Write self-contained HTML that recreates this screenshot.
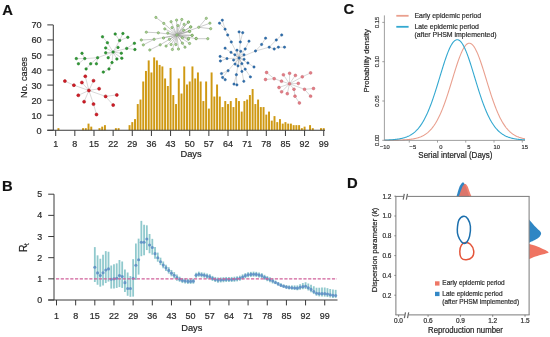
<!DOCTYPE html>
<html><head><meta charset="utf-8"><style>
html,body{margin:0;padding:0;background:#fff;}
svg{display:block;filter:blur(0.3px);}
text{stroke:#2a2a2a;stroke-width:0.2px;}
</style></head><body>
<svg width="550" height="337" viewBox="0 0 550 337">
<rect width="550" height="337" fill="#fff"/>
<g fill="#CF9913"><rect x="57.46" y="128.15" width="1.95" height="2.10"/><rect x="82.08" y="128.15" width="1.95" height="2.10"/><rect x="84.81" y="128.15" width="1.95" height="2.10"/><rect x="87.55" y="123.63" width="1.95" height="6.62"/><rect x="90.28" y="126.64" width="1.95" height="3.61"/><rect x="98.49" y="128.15" width="1.95" height="2.10"/><rect x="101.22" y="126.64" width="1.95" height="3.61"/><rect x="103.96" y="125.14" width="1.95" height="5.11"/><rect x="114.90" y="128.15" width="1.95" height="2.10"/><rect x="117.63" y="128.15" width="1.95" height="2.10"/><rect x="128.57" y="125.14" width="1.95" height="5.11"/><rect x="131.31" y="122.12" width="1.95" height="8.12"/><rect x="134.04" y="119.11" width="1.95" height="11.13"/><rect x="136.78" y="104.06" width="1.95" height="26.18"/><rect x="139.51" y="99.55" width="1.95" height="30.70"/><rect x="142.25" y="81.49" width="1.95" height="48.76"/><rect x="144.98" y="70.96" width="1.95" height="59.29"/><rect x="147.72" y="60.42" width="1.95" height="69.83"/><rect x="150.45" y="72.46" width="1.95" height="57.79"/><rect x="153.19" y="57.41" width="1.95" height="72.84"/><rect x="155.92" y="60.42" width="1.95" height="69.83"/><rect x="158.66" y="64.94" width="1.95" height="65.31"/><rect x="161.39" y="66.44" width="1.95" height="63.81"/><rect x="164.12" y="78.48" width="1.95" height="51.77"/><rect x="166.86" y="86.00" width="1.95" height="44.24"/><rect x="169.59" y="67.94" width="1.95" height="62.30"/><rect x="172.33" y="95.03" width="1.95" height="35.21"/><rect x="175.06" y="104.06" width="1.95" height="26.18"/><rect x="177.80" y="78.48" width="1.95" height="51.77"/><rect x="180.53" y="93.53" width="1.95" height="36.72"/><rect x="183.27" y="66.44" width="1.95" height="63.81"/><rect x="186.01" y="84.50" width="1.95" height="45.75"/><rect x="188.74" y="81.49" width="1.95" height="48.76"/><rect x="191.47" y="66.44" width="1.95" height="63.81"/><rect x="194.21" y="78.48" width="1.95" height="51.77"/><rect x="196.95" y="72.46" width="1.95" height="57.79"/><rect x="199.68" y="81.49" width="1.95" height="48.76"/><rect x="202.41" y="101.06" width="1.95" height="29.20"/><rect x="205.15" y="81.49" width="1.95" height="48.76"/><rect x="207.89" y="108.58" width="1.95" height="21.67"/><rect x="210.62" y="72.46" width="1.95" height="57.79"/><rect x="213.35" y="96.54" width="1.95" height="33.71"/><rect x="216.09" y="84.50" width="1.95" height="45.75"/><rect x="218.83" y="96.54" width="1.95" height="33.71"/><rect x="221.56" y="107.08" width="1.95" height="23.18"/><rect x="224.29" y="101.06" width="1.95" height="29.20"/><rect x="227.03" y="104.06" width="1.95" height="26.18"/><rect x="229.77" y="101.06" width="1.95" height="29.20"/><rect x="232.50" y="107.08" width="1.95" height="23.18"/><rect x="235.23" y="98.05" width="1.95" height="32.20"/><rect x="237.97" y="101.06" width="1.95" height="29.20"/><rect x="240.71" y="111.59" width="1.95" height="18.66"/><rect x="243.44" y="101.06" width="1.95" height="29.20"/><rect x="246.17" y="99.55" width="1.95" height="30.70"/><rect x="248.91" y="95.03" width="1.95" height="35.21"/><rect x="251.65" y="89.02" width="1.95" height="41.23"/><rect x="254.38" y="104.06" width="1.95" height="26.18"/><rect x="257.11" y="99.55" width="1.95" height="30.70"/><rect x="259.85" y="107.08" width="1.95" height="23.18"/><rect x="262.58" y="107.08" width="1.95" height="23.18"/><rect x="265.32" y="114.60" width="1.95" height="15.65"/><rect x="268.05" y="111.59" width="1.95" height="18.66"/><rect x="270.79" y="120.62" width="1.95" height="9.63"/><rect x="273.52" y="116.11" width="1.95" height="14.14"/><rect x="276.26" y="122.12" width="1.95" height="8.12"/><rect x="278.99" y="119.11" width="1.95" height="11.13"/><rect x="281.73" y="123.63" width="1.95" height="6.62"/><rect x="284.46" y="122.12" width="1.95" height="8.12"/><rect x="287.20" y="123.63" width="1.95" height="6.62"/><rect x="289.93" y="123.63" width="1.95" height="6.62"/><rect x="292.67" y="125.14" width="1.95" height="5.11"/><rect x="295.40" y="125.14" width="1.95" height="5.11"/><rect x="298.14" y="125.14" width="1.95" height="5.11"/><rect x="300.87" y="128.15" width="1.95" height="2.10"/><rect x="303.61" y="126.64" width="1.95" height="3.61"/><rect x="309.08" y="125.14" width="1.95" height="5.11"/><rect x="311.81" y="128.15" width="1.95" height="2.10"/><rect x="320.02" y="128.15" width="1.95" height="2.10"/><rect x="322.75" y="128.15" width="1.95" height="2.10"/></g>
<g stroke="#3a3a3a" stroke-width="1" fill="none">
<path d="M53.3 25.0V130.25"/>
<path d="M47.3 130.25H53.3"/>
<path d="M47.3 115.20H53.3"/>
<path d="M47.3 100.15H53.3"/>
<path d="M47.3 85.10H53.3"/>
<path d="M47.3 70.05H53.3"/>
<path d="M47.3 55.00H53.3"/>
<path d="M47.3 39.95H53.3"/>
<path d="M47.3 24.90H53.3"/>
<path d="M47.3 130.25H325"/>
<path d="M55.70 130.25V136"/>
<path d="M74.84 130.25V136"/>
<path d="M93.99 130.25V136"/>
<path d="M113.13 130.25V136"/>
<path d="M132.28 130.25V136"/>
<path d="M151.43 130.25V136"/>
<path d="M170.57 130.25V136"/>
<path d="M189.71 130.25V136"/>
<path d="M208.86 130.25V136"/>
<path d="M228.00 130.25V136"/>
<path d="M247.15 130.25V136"/>
<path d="M266.30 130.25V136"/>
<path d="M285.44 130.25V136"/>
<path d="M304.58 130.25V136"/>
<path d="M323.73 130.25V136"/>
</g>
<g font-family='"Liberation Sans", sans-serif' font-size="9.2" fill="#2a2a2a" text-anchor="end">
<text transform="translate(41.7 133.75) scale(1 1.05)">0</text>
<text transform="translate(41.7 118.70) scale(1 1.05)">10</text>
<text transform="translate(41.7 103.65) scale(1 1.05)">20</text>
<text transform="translate(41.7 88.60) scale(1 1.05)">30</text>
<text transform="translate(41.7 73.55) scale(1 1.05)">40</text>
<text transform="translate(41.7 58.50) scale(1 1.05)">50</text>
<text transform="translate(41.7 43.45) scale(1 1.05)">60</text>
<text transform="translate(41.7 28.40) scale(1 1.05)">70</text>
</g>
<g font-family='"Liberation Sans", sans-serif' font-size="9.0" fill="#2a2a2a" text-anchor="middle">
<text transform="translate(55.70 147.0) scale(1 1.05)">1</text>
<text transform="translate(74.84 147.0) scale(1 1.05)">8</text>
<text transform="translate(93.99 147.0) scale(1 1.05)">15</text>
<text transform="translate(113.13 147.0) scale(1 1.05)">22</text>
<text transform="translate(132.28 147.0) scale(1 1.05)">29</text>
<text transform="translate(151.43 147.0) scale(1 1.05)">36</text>
<text transform="translate(170.57 147.0) scale(1 1.05)">43</text>
<text transform="translate(189.71 147.0) scale(1 1.05)">50</text>
<text transform="translate(208.86 147.0) scale(1 1.05)">57</text>
<text transform="translate(228.00 147.0) scale(1 1.05)">64</text>
<text transform="translate(247.15 147.0) scale(1 1.05)">71</text>
<text transform="translate(266.30 147.0) scale(1 1.05)">78</text>
<text transform="translate(285.44 147.0) scale(1 1.05)">85</text>
<text transform="translate(304.58 147.0) scale(1 1.05)">92</text>
<text transform="translate(323.73 147.0) scale(1 1.05)">99</text>
</g>
<text transform="translate(191 157.0) scale(1 1.06)" font-family='"Liberation Sans", sans-serif' font-size="9.3" fill="#222" text-anchor="middle">Days</text>
<text transform="translate(26.5 77.5) rotate(-90)" font-family='"Liberation Sans", sans-serif' font-size="9.2" fill="#2a2a2a" text-anchor="middle">No. cases</text>
<g stroke="#a8a8a8" stroke-width="0.45" fill="none"><path d="M113.1 52.0L107.4 42.7"/><path d="M107.4 42.7L102.5 36.8"/><path d="M113.1 52.0L119.6 40.5"/><path d="M119.6 40.5L115.2 34.0"/><path d="M119.6 40.5L122.9 33.5"/><path d="M119.6 40.5L127.8 37.3"/><path d="M113.1 52.0L126.7 48.4"/><path d="M126.7 48.4L134.4 43.3"/><path d="M126.7 48.4L134.9 49.5"/><path d="M113.1 52.0L118.0 47.4"/><path d="M113.1 52.0L105.7 47.9"/><path d="M113.1 52.0L105.7 52.8"/><path d="M113.1 52.0L121.3 53.2"/><path d="M113.1 52.0L108.2 57.7"/><path d="M113.1 52.0L116.9 59.0"/><path d="M113.1 52.0L121.8 58.2"/><path d="M113.1 52.0L112.0 62.6"/><path d="M112.0 62.6L109.0 68.9"/><path d="M109.0 68.9L103.3 72.1"/><path d="M113.1 52.0L97.6 57.7"/><path d="M97.6 57.7L90.7 63.8"/><path d="M90.7 63.8L86.1 68.9"/><path d="M97.6 57.7L96.4 63.8"/><path d="M97.6 57.7L84.8 58.6"/><path d="M84.8 58.6L82.0 53.3"/><path d="M84.8 58.6L76.3 58.6"/><path d="M84.8 58.6L78.4 63.8"/></g><g fill="#2f9a35" stroke="#1f7a25" stroke-width="0.55"><circle cx="113.1" cy="52.0" r="1.25"/><circle cx="107.4" cy="42.7" r="1.25"/><circle cx="102.5" cy="36.8" r="1.25"/><circle cx="119.6" cy="40.5" r="1.25"/><circle cx="115.2" cy="34.0" r="1.25"/><circle cx="122.9" cy="33.5" r="1.25"/><circle cx="127.8" cy="37.3" r="1.25"/><circle cx="126.7" cy="48.4" r="1.25"/><circle cx="134.4" cy="43.3" r="1.25"/><circle cx="134.9" cy="49.5" r="1.25"/><circle cx="118.0" cy="47.4" r="1.25"/><circle cx="105.7" cy="47.9" r="1.25"/><circle cx="105.7" cy="52.8" r="1.25"/><circle cx="121.3" cy="53.2" r="1.25"/><circle cx="108.2" cy="57.7" r="1.25"/><circle cx="116.9" cy="59.0" r="1.25"/><circle cx="121.8" cy="58.2" r="1.25"/><circle cx="112.0" cy="62.6" r="1.25"/><circle cx="109.0" cy="68.9" r="1.25"/><circle cx="103.3" cy="72.1" r="1.25"/><circle cx="97.6" cy="57.7" r="1.25"/><circle cx="90.7" cy="63.8" r="1.25"/><circle cx="86.1" cy="68.9" r="1.25"/><circle cx="96.4" cy="63.8" r="1.25"/><circle cx="84.8" cy="58.6" r="1.25"/><circle cx="82.0" cy="53.3" r="1.25"/><circle cx="76.3" cy="58.6" r="1.25"/><circle cx="78.4" cy="63.8" r="1.25"/></g>
<g stroke="#a8a8a8" stroke-width="0.45" fill="none"><path d="M88.9 90.5L85.3 76.3"/><path d="M88.9 90.5L93.5 80.7"/><path d="M88.9 90.5L81.9 82.5"/><path d="M88.9 90.5L73.9 85.2"/><path d="M73.9 85.2L64.9 81.1"/><path d="M88.9 90.5L99.1 88.7"/><path d="M88.9 90.5L78.3 95.3"/><path d="M88.9 90.5L84.1 101.7"/><path d="M88.9 90.5L93.5 104.1"/><path d="M93.5 104.1L96.5 114.5"/><path d="M88.9 90.5L105.6 96.4"/><path d="M105.6 96.4L116.8 94.9"/><path d="M105.6 96.4L113.2 105.1"/></g><g fill="#d01c26" stroke="#a81018" stroke-width="0.55"><circle cx="88.9" cy="90.5" r="1.5"/><circle cx="85.3" cy="76.3" r="1.5"/><circle cx="93.5" cy="80.7" r="1.5"/><circle cx="81.9" cy="82.5" r="1.5"/><circle cx="73.9" cy="85.2" r="1.5"/><circle cx="64.9" cy="81.1" r="1.5"/><circle cx="99.1" cy="88.7" r="1.5"/><circle cx="78.3" cy="95.3" r="1.5"/><circle cx="84.1" cy="101.7" r="1.5"/><circle cx="93.5" cy="104.1" r="1.5"/><circle cx="96.5" cy="114.5" r="1.5"/><circle cx="105.6" cy="96.4" r="1.5"/><circle cx="116.8" cy="94.9" r="1.5"/><circle cx="113.2" cy="105.1" r="1.5"/></g>
<g stroke="#999" stroke-width="0.5" fill="none"><path d="M176.9 35.0L163.8 23.4"/><path d="M176.9 35.0L171.1 21.7"/><path d="M176.9 35.0L176.6 20.1"/><path d="M176.9 35.0L181.8 19.5"/><path d="M176.9 35.0L188.3 22.1"/><path d="M176.9 35.0L172.0 27.6"/><path d="M176.9 35.0L177.9 25.6"/><path d="M176.9 35.0L184.1 24.3"/><path d="M176.9 35.0L190.7 26.9"/><path d="M176.9 35.0L164.8 28.9"/><path d="M176.9 35.0L183.7 30.2"/><path d="M176.9 35.0L189.3 31.2"/><path d="M176.9 35.0L158.3 32.8"/><path d="M176.9 35.0L167.8 33.1"/><path d="M176.9 35.0L192.2 35.4"/><path d="M176.9 35.0L196.1 38.7"/><path d="M176.9 35.0L154.1 39.3"/><path d="M176.9 35.0L163.5 38.0"/><path d="M176.9 35.0L169.4 39.3"/><path d="M176.9 35.0L182.4 37.8"/><path d="M176.9 35.0L188.3 39.3"/><path d="M176.9 35.0L160.2 44.8"/><path d="M176.9 35.0L166.1 46.1"/><path d="M176.9 35.0L171.1 44.6"/><path d="M176.9 35.0L175.9 44.6"/><path d="M176.9 35.0L182.4 43.2"/><path d="M176.9 35.0L189.6 43.5"/><path d="M176.9 35.0L172.4 49.5"/><path d="M176.9 35.0L178.5 49.1"/><path d="M176.9 35.0L185.0 47.2"/><path d="M176.9 35.0L188.6 22.1"/><path d="M176.9 35.0L190.7 27.0"/><path d="M176.9 35.0L189.7 31.5"/><path d="M176.9 35.0L192.1 35.3"/><path d="M176.9 35.0L188.6 38.4"/><path d="M176.9 35.0L198.7 27.3"/><path d="M163.8 23.4L155.9 17.4"/><path d="M158.3 32.8L146.3 32.2"/><path d="M154.1 39.3L141.3 40.0"/><path d="M154.1 39.3L143.3 44.9"/><path d="M160.2 44.8L149.8 50.0"/><path d="M198.7 27.3L206.3 18.3"/><path d="M198.7 27.3L209.9 23.2"/><path d="M198.7 27.3L210.7 28.7"/><path d="M196.1 38.7L207.8 38.7"/><path d="M196.1 38.7L196.2 38.4"/></g><g fill="#b2d49a" stroke="#62964a" stroke-width="0.55"><circle cx="176.9" cy="35.0" r="1.15"/><circle cx="163.8" cy="23.4" r="1.15"/><circle cx="171.1" cy="21.7" r="1.15"/><circle cx="176.6" cy="20.1" r="1.15"/><circle cx="181.8" cy="19.5" r="1.15"/><circle cx="188.3" cy="22.1" r="1.15"/><circle cx="172.0" cy="27.6" r="1.15"/><circle cx="177.9" cy="25.6" r="1.15"/><circle cx="184.1" cy="24.3" r="1.15"/><circle cx="190.7" cy="26.9" r="1.15"/><circle cx="164.8" cy="28.9" r="1.15"/><circle cx="183.7" cy="30.2" r="1.15"/><circle cx="189.3" cy="31.2" r="1.15"/><circle cx="158.3" cy="32.8" r="1.15"/><circle cx="167.8" cy="33.1" r="1.15"/><circle cx="192.2" cy="35.4" r="1.15"/><circle cx="196.1" cy="38.7" r="1.15"/><circle cx="154.1" cy="39.3" r="1.15"/><circle cx="163.5" cy="38.0" r="1.15"/><circle cx="169.4" cy="39.3" r="1.15"/><circle cx="182.4" cy="37.8" r="1.15"/><circle cx="188.3" cy="39.3" r="1.15"/><circle cx="160.2" cy="44.8" r="1.15"/><circle cx="166.1" cy="46.1" r="1.15"/><circle cx="171.1" cy="44.6" r="1.15"/><circle cx="175.9" cy="44.6" r="1.15"/><circle cx="182.4" cy="43.2" r="1.15"/><circle cx="189.6" cy="43.5" r="1.15"/><circle cx="172.4" cy="49.5" r="1.15"/><circle cx="178.5" cy="49.1" r="1.15"/><circle cx="185.0" cy="47.2" r="1.15"/><circle cx="188.6" cy="22.1" r="1.15"/><circle cx="190.7" cy="27.0" r="1.15"/><circle cx="189.7" cy="31.5" r="1.15"/><circle cx="192.1" cy="35.3" r="1.15"/><circle cx="188.6" cy="38.4" r="1.15"/><circle cx="198.7" cy="27.3" r="1.15"/><circle cx="155.9" cy="17.4" r="1.15"/><circle cx="146.3" cy="32.2" r="1.15"/><circle cx="141.3" cy="40.0" r="1.15"/><circle cx="143.3" cy="44.9" r="1.15"/><circle cx="149.8" cy="50.0" r="1.15"/><circle cx="206.3" cy="18.3" r="1.15"/><circle cx="209.9" cy="23.2" r="1.15"/><circle cx="210.7" cy="28.7" r="1.15"/><circle cx="207.8" cy="38.7" r="1.15"/><circle cx="196.2" cy="38.4" r="1.15"/></g>
<g stroke="#a8a8a8" stroke-width="0.45" fill="none"><path d="M239.1 58.0L231.3 42.0"/><path d="M231.3 42.0L227.7 35.0"/><path d="M227.7 35.0L225.1 29.2"/><path d="M225.1 29.2L222.3 20.2"/><path d="M225.1 29.2L219.5 23.2"/><path d="M239.1 58.0L240.3 42.0"/><path d="M240.3 42.0L239.1 31.9"/><path d="M240.3 42.0L242.7 32.7"/><path d="M239.1 58.0L245.2 49.0"/><path d="M245.2 49.0L249.0 41.2"/><path d="M239.1 58.0L225.1 48.2"/><path d="M239.1 58.0L231.0 52.3"/><path d="M239.1 58.0L237.0 50.2"/><path d="M239.1 58.0L240.8 51.3"/><path d="M239.1 58.0L234.9 54.8"/><path d="M239.1 58.0L244.0 54.8"/><path d="M239.1 58.0L244.1 59.3"/><path d="M239.1 58.0L227.0 58.6"/><path d="M227.0 58.6L220.1 56.4"/><path d="M227.0 58.6L220.4 61.0"/><path d="M239.1 58.0L233.6 60.1"/><path d="M239.1 58.0L235.1 64.1"/><path d="M239.1 58.0L238.0 65.9"/><path d="M239.1 58.0L241.9 63.7"/><path d="M239.1 58.0L247.9 63.0"/><path d="M247.9 63.0L254.0 67.0"/><path d="M239.1 58.0L245.2 69.2"/><path d="M245.2 69.2L250.4 76.9"/><path d="M239.1 58.0L241.9 71.4"/><path d="M241.9 71.4L243.8 81.3"/><path d="M239.1 58.0L236.4 74.7"/><path d="M236.4 74.7L234.0 84.1"/><path d="M236.4 74.7L236.9 84.9"/><path d="M239.1 58.0L228.1 70.7"/><path d="M228.1 70.7L221.5 73.6"/><path d="M228.1 70.7L222.6 77.5"/><path d="M222.6 77.5L225.2 79.7"/><path d="M239.1 58.0L255.5 51.0"/><path d="M255.5 51.0L261.6 44.5"/><path d="M261.6 44.5L265.6 38.2"/><path d="M255.5 51.0L269.2 47.2"/><path d="M269.2 47.2L274.2 49.0"/><path d="M269.2 47.2L276.3 40.0"/><path d="M276.3 40.0L281.7 35.0"/><path d="M274.2 49.0L278.4 47.2"/><path d="M278.4 47.2L284.5 47.2"/></g><g fill="#2e6fae" stroke="#1f5a94" stroke-width="0.55"><circle cx="239.1" cy="58.0" r="1.15"/><circle cx="231.3" cy="42.0" r="1.15"/><circle cx="227.7" cy="35.0" r="1.15"/><circle cx="225.1" cy="29.2" r="1.15"/><circle cx="222.3" cy="20.2" r="1.15"/><circle cx="219.5" cy="23.2" r="1.15"/><circle cx="240.3" cy="42.0" r="1.15"/><circle cx="239.1" cy="31.9" r="1.15"/><circle cx="242.7" cy="32.7" r="1.15"/><circle cx="245.2" cy="49.0" r="1.15"/><circle cx="249.0" cy="41.2" r="1.15"/><circle cx="225.1" cy="48.2" r="1.15"/><circle cx="231.0" cy="52.3" r="1.15"/><circle cx="237.0" cy="50.2" r="1.15"/><circle cx="240.8" cy="51.3" r="1.15"/><circle cx="234.9" cy="54.8" r="1.15"/><circle cx="244.0" cy="54.8" r="1.15"/><circle cx="244.1" cy="59.3" r="1.15"/><circle cx="227.0" cy="58.6" r="1.15"/><circle cx="220.1" cy="56.4" r="1.15"/><circle cx="220.4" cy="61.0" r="1.15"/><circle cx="233.6" cy="60.1" r="1.15"/><circle cx="235.1" cy="64.1" r="1.15"/><circle cx="238.0" cy="65.9" r="1.15"/><circle cx="241.9" cy="63.7" r="1.15"/><circle cx="247.9" cy="63.0" r="1.15"/><circle cx="254.0" cy="67.0" r="1.15"/><circle cx="245.2" cy="69.2" r="1.15"/><circle cx="250.4" cy="76.9" r="1.15"/><circle cx="241.9" cy="71.4" r="1.15"/><circle cx="243.8" cy="81.3" r="1.15"/><circle cx="236.4" cy="74.7" r="1.15"/><circle cx="234.0" cy="84.1" r="1.15"/><circle cx="236.9" cy="84.9" r="1.15"/><circle cx="228.1" cy="70.7" r="1.15"/><circle cx="221.5" cy="73.6" r="1.15"/><circle cx="222.6" cy="77.5" r="1.15"/><circle cx="225.2" cy="79.7" r="1.15"/><circle cx="255.5" cy="51.0" r="1.15"/><circle cx="261.6" cy="44.5" r="1.15"/><circle cx="265.6" cy="38.2" r="1.15"/><circle cx="269.2" cy="47.2" r="1.15"/><circle cx="274.2" cy="49.0" r="1.15"/><circle cx="276.3" cy="40.0" r="1.15"/><circle cx="281.7" cy="35.0" r="1.15"/><circle cx="278.4" cy="47.2" r="1.15"/><circle cx="284.5" cy="47.2" r="1.15"/></g>
<g stroke="#a8a8a8" stroke-width="0.45" fill="none"><path d="M289.5 83.8L281.5 81.2"/><path d="M281.5 81.2L274.2 78.7"/><path d="M274.2 78.7L266.6 72.5"/><path d="M274.2 78.7L265.5 79.5"/><path d="M289.5 83.8L283.4 74.8"/><path d="M289.5 83.8L289.6 73.3"/><path d="M289.5 83.8L295.4 75.4"/><path d="M289.5 83.8L302.3 76.8"/><path d="M302.3 76.8L310.6 72.9"/><path d="M289.5 83.8L298.3 83.4"/><path d="M289.5 83.8L279.0 87.5"/><path d="M289.5 83.8L281.6 91.8"/><path d="M289.5 83.8L287.3 93.7"/><path d="M289.5 83.8L294.0 89.3"/><path d="M294.0 89.3L295.0 96.2"/><path d="M295.0 96.2L299.4 103.0"/><path d="M289.5 83.8L304.5 89.3"/><path d="M304.5 89.3L313.5 88.5"/><path d="M304.5 89.3L310.6 96.2"/></g><g fill="#e27d86" stroke="#c9646e" stroke-width="0.55"><circle cx="289.5" cy="83.8" r="1.4"/><circle cx="281.5" cy="81.2" r="1.4"/><circle cx="274.2" cy="78.7" r="1.4"/><circle cx="266.6" cy="72.5" r="1.4"/><circle cx="265.5" cy="79.5" r="1.4"/><circle cx="283.4" cy="74.8" r="1.4"/><circle cx="289.6" cy="73.3" r="1.4"/><circle cx="295.4" cy="75.4" r="1.4"/><circle cx="302.3" cy="76.8" r="1.4"/><circle cx="310.6" cy="72.9" r="1.4"/><circle cx="298.3" cy="83.4" r="1.4"/><circle cx="279.0" cy="87.5" r="1.4"/><circle cx="281.6" cy="91.8" r="1.4"/><circle cx="287.3" cy="93.7" r="1.4"/><circle cx="294.0" cy="89.3" r="1.4"/><circle cx="295.0" cy="96.2" r="1.4"/><circle cx="299.4" cy="103.0" r="1.4"/><circle cx="304.5" cy="89.3" r="1.4"/><circle cx="313.5" cy="88.5" r="1.4"/><circle cx="310.6" cy="96.2" r="1.4"/></g>
<g stroke="#84c3c8" stroke-opacity="0.9" stroke-width="1.8" fill="none"><path d="M94.82 247.10V282.01"/><path d="M97.56 255.35V284.76"/><path d="M100.29 258.74V286.67"/><path d="M103.03 254.72V285.40"/><path d="M105.77 251.12V283.07"/><path d="M108.50 251.76V281.59"/><path d="M111.24 265.51V288.57"/><path d="M113.98 264.24V288.57"/><path d="M116.71 263.39V287.94"/><path d="M119.45 260.01V287.09"/><path d="M122.19 261.49V287.94"/><path d="M124.92 269.53V291.96"/><path d="M127.66 272.49V295.77"/><path d="M130.40 276.09V296.83"/><path d="M133.14 259.16V296.61"/><path d="M135.87 243.50V279.90"/><path d="M138.61 238.64V274.61"/><path d="M141.35 220.86V256.20"/><path d="M144.08 224.67V255.14"/><path d="M146.82 225.31V250.06"/><path d="M149.56 233.98V253.24"/><path d="M152.30 238.85V254.72"/><path d="M155.03 247.10V258.74"/><path d="M157.77 252.60V261.70"/><path d="M160.51 257.68V265.09"/><path d="M163.24 261.49V268.26"/><path d="M165.98 264.66V271.01"/><path d="M168.72 267.20V273.55"/><path d="M171.45 269.95V276.30"/><path d="M174.19 272.07V278.42"/><path d="M176.93 274.40V280.74"/><path d="M179.67 276.72V281.80"/><path d="M182.40 277.99V283.07"/><path d="M185.14 278.42V283.50"/><path d="M187.88 278.84V283.92"/><path d="M190.61 278.84V283.92"/><path d="M193.35 278.63V283.71"/><path d="M196.09 272.70V277.78"/><path d="M198.82 271.65V276.72"/><path d="M201.56 272.28V277.36"/><path d="M204.30 272.70V277.78"/><path d="M207.03 273.55V278.63"/><path d="M209.77 274.18V279.26"/><path d="M212.51 275.88V280.96"/><path d="M215.25 276.94V282.01"/><path d="M217.98 277.57V282.65"/><path d="M220.72 277.36V282.44"/><path d="M223.46 277.15V282.23"/><path d="M226.19 276.94V282.01"/><path d="M228.93 276.94V282.01"/><path d="M231.67 276.94V282.01"/><path d="M234.41 276.72V281.80"/><path d="M237.14 276.30V281.38"/><path d="M239.88 275.67V280.74"/><path d="M242.62 274.40V279.47"/><path d="M245.35 273.13V278.21"/><path d="M248.09 272.28V277.36"/><path d="M250.83 271.86V276.94"/><path d="M253.56 271.65V276.72"/><path d="M256.30 271.86V276.94"/><path d="M259.04 272.49V277.57"/><path d="M261.77 273.13V278.21"/><path d="M264.51 274.82V279.90"/><path d="M267.25 276.09V281.17"/><path d="M269.99 277.15V282.23"/><path d="M272.72 278.42V283.50"/><path d="M275.46 280.53V284.13"/><path d="M278.20 282.01V285.61"/><path d="M280.93 283.28V286.88"/><path d="M283.67 284.34V287.94"/><path d="M286.41 284.98V288.79"/><path d="M289.14 285.40V289.42"/><path d="M291.88 285.40V289.63"/><path d="M294.62 285.40V289.84"/><path d="M297.36 285.40V290.27"/><path d="M300.09 284.13V289.63"/><path d="M302.83 283.07V289.21"/><path d="M305.57 282.23V289.00"/><path d="M308.30 283.50V290.48"/><path d="M311.04 284.76V292.17"/><path d="M313.78 286.25V294.08"/><path d="M316.51 287.73V295.77"/><path d="M319.25 287.73V296.40"/><path d="M321.99 287.52V296.61"/><path d="M324.73 287.52V296.61"/><path d="M327.46 288.15V297.04"/><path d="M330.20 289.00V297.46"/><path d="M332.94 289.42V297.88"/><path d="M335.67 289.84V297.88"/></g>
<g fill="#5a8cc4" fill-opacity="0.85"><circle cx="94.82" cy="267.20" r="1.55"/><circle cx="97.56" cy="272.92" r="1.55"/><circle cx="100.29" cy="275.45" r="1.55"/><circle cx="103.03" cy="272.70" r="1.55"/><circle cx="105.77" cy="269.95" r="1.55"/><circle cx="108.50" cy="268.89" r="1.55"/><circle cx="111.24" cy="279.26" r="1.55"/><circle cx="113.98" cy="278.84" r="1.55"/><circle cx="116.71" cy="278.21" r="1.55"/><circle cx="119.45" cy="275.45" r="1.55"/><circle cx="122.19" cy="276.51" r="1.55"/><circle cx="124.92" cy="282.65" r="1.55"/><circle cx="127.66" cy="288.57" r="1.55"/><circle cx="130.40" cy="288.57" r="1.55"/><circle cx="133.14" cy="278.21" r="1.55"/><circle cx="135.87" cy="265.30" r="1.55"/><circle cx="138.61" cy="259.80" r="1.55"/><circle cx="141.35" cy="242.23" r="1.55"/><circle cx="144.08" cy="242.23" r="1.55"/><circle cx="146.82" cy="239.06" r="1.55"/><circle cx="149.56" cy="244.98" r="1.55"/><circle cx="152.30" cy="247.52" r="1.55"/><circle cx="155.03" cy="253.66" r="1.55"/><circle cx="157.77" cy="257.68" r="1.55"/><circle cx="160.51" cy="261.70" r="1.55"/><circle cx="163.24" cy="265.09" r="1.55"/><circle cx="165.98" cy="267.84" r="1.55"/><circle cx="168.72" cy="270.38" r="1.55"/><circle cx="171.45" cy="273.13" r="1.55"/><circle cx="174.19" cy="275.24" r="1.55"/><circle cx="176.93" cy="277.57" r="1.55"/><circle cx="179.67" cy="279.26" r="1.55"/><circle cx="182.40" cy="280.53" r="1.55"/><circle cx="185.14" cy="280.96" r="1.55"/><circle cx="187.88" cy="281.38" r="1.55"/><circle cx="190.61" cy="281.38" r="1.55"/><circle cx="193.35" cy="281.17" r="1.55"/><circle cx="196.09" cy="275.24" r="1.55"/><circle cx="198.82" cy="274.18" r="1.55"/><circle cx="201.56" cy="274.82" r="1.55"/><circle cx="204.30" cy="275.24" r="1.55"/><circle cx="207.03" cy="276.09" r="1.55"/><circle cx="209.77" cy="276.72" r="1.55"/><circle cx="212.51" cy="278.42" r="1.55"/><circle cx="215.25" cy="279.47" r="1.55"/><circle cx="217.98" cy="280.11" r="1.55"/><circle cx="220.72" cy="279.90" r="1.55"/><circle cx="223.46" cy="279.69" r="1.55"/><circle cx="226.19" cy="279.47" r="1.55"/><circle cx="228.93" cy="279.47" r="1.55"/><circle cx="231.67" cy="279.47" r="1.55"/><circle cx="234.41" cy="279.26" r="1.55"/><circle cx="237.14" cy="278.84" r="1.55"/><circle cx="239.88" cy="278.21" r="1.55"/><circle cx="242.62" cy="276.94" r="1.55"/><circle cx="245.35" cy="275.67" r="1.55"/><circle cx="248.09" cy="274.82" r="1.55"/><circle cx="250.83" cy="274.40" r="1.55"/><circle cx="253.56" cy="274.18" r="1.55"/><circle cx="256.30" cy="274.40" r="1.55"/><circle cx="259.04" cy="275.03" r="1.55"/><circle cx="261.77" cy="275.67" r="1.55"/><circle cx="264.51" cy="277.36" r="1.55"/><circle cx="267.25" cy="278.63" r="1.55"/><circle cx="269.99" cy="279.69" r="1.55"/><circle cx="272.72" cy="280.96" r="1.55"/><circle cx="275.46" cy="282.44" r="1.55"/><circle cx="278.20" cy="283.92" r="1.55"/><circle cx="280.93" cy="285.19" r="1.55"/><circle cx="283.67" cy="286.25" r="1.55"/><circle cx="286.41" cy="287.09" r="1.55"/><circle cx="289.14" cy="287.52" r="1.55"/><circle cx="291.88" cy="287.73" r="1.55"/><circle cx="294.62" cy="287.94" r="1.55"/><circle cx="297.36" cy="288.15" r="1.55"/><circle cx="300.09" cy="287.30" r="1.55"/><circle cx="302.83" cy="286.67" r="1.55"/><circle cx="305.57" cy="286.25" r="1.55"/><circle cx="308.30" cy="287.73" r="1.55"/><circle cx="311.04" cy="289.42" r="1.55"/><circle cx="313.78" cy="291.54" r="1.55"/><circle cx="316.51" cy="293.23" r="1.55"/><circle cx="319.25" cy="293.65" r="1.55"/><circle cx="321.99" cy="293.65" r="1.55"/><circle cx="324.73" cy="293.65" r="1.55"/><circle cx="327.46" cy="294.08" r="1.55"/><circle cx="330.20" cy="294.71" r="1.55"/><circle cx="332.94" cy="295.34" r="1.55"/><circle cx="335.67" cy="295.56" r="1.55"/></g>
<path d="M55.95 278.84H337" stroke="#d0609a" stroke-width="1.1" stroke-dasharray="3.2 1.558" fill="none"/>
<g stroke="#3a3a3a" stroke-width="1" fill="none">
<path d="M54 194.2V300"/>
<path d="M48.2 300.00H54"/>
<path d="M48.2 278.84H54"/>
<path d="M48.2 257.68H54"/>
<path d="M48.2 236.52H54"/>
<path d="M48.2 215.36H54"/>
<path d="M48.2 194.20H54"/>
<path d="M48.2 300H337.5"/>
<path d="M56.50 300V305.4"/>
<path d="M75.66 300V305.4"/>
<path d="M94.82 300V305.4"/>
<path d="M113.98 300V305.4"/>
<path d="M133.14 300V305.4"/>
<path d="M152.30 300V305.4"/>
<path d="M171.45 300V305.4"/>
<path d="M190.61 300V305.4"/>
<path d="M209.77 300V305.4"/>
<path d="M228.93 300V305.4"/>
<path d="M248.09 300V305.4"/>
<path d="M267.25 300V305.4"/>
<path d="M286.41 300V305.4"/>
<path d="M305.57 300V305.4"/>
<path d="M324.73 300V305.4"/>
</g>
<g font-family='"Liberation Sans", sans-serif' font-size="8.9" fill="#2a2a2a" text-anchor="end">
<text transform="translate(42.3 303.00) scale(1 1.05)">0</text>
<text transform="translate(42.3 281.84) scale(1 1.05)">1</text>
<text transform="translate(42.3 260.68) scale(1 1.05)">2</text>
<text transform="translate(42.3 239.52) scale(1 1.05)">3</text>
<text transform="translate(42.3 218.36) scale(1 1.05)">4</text>
<text transform="translate(42.3 197.20) scale(1 1.05)">5</text>
</g>
<g font-family='"Liberation Sans", sans-serif' font-size="9.0" fill="#2a2a2a" text-anchor="middle">
<text transform="translate(56.50 318.9) scale(1 1.05)">1</text>
<text transform="translate(75.66 318.9) scale(1 1.05)">8</text>
<text transform="translate(94.82 318.9) scale(1 1.05)">15</text>
<text transform="translate(113.98 318.9) scale(1 1.05)">22</text>
<text transform="translate(133.14 318.9) scale(1 1.05)">29</text>
<text transform="translate(152.30 318.9) scale(1 1.05)">36</text>
<text transform="translate(171.45 318.9) scale(1 1.05)">43</text>
<text transform="translate(190.61 318.9) scale(1 1.05)">50</text>
<text transform="translate(209.77 318.9) scale(1 1.05)">57</text>
<text transform="translate(228.93 318.9) scale(1 1.05)">64</text>
<text transform="translate(248.09 318.9) scale(1 1.05)">71</text>
<text transform="translate(267.25 318.9) scale(1 1.05)">78</text>
<text transform="translate(286.41 318.9) scale(1 1.05)">85</text>
<text transform="translate(305.57 318.9) scale(1 1.05)">92</text>
<text transform="translate(324.73 318.9) scale(1 1.05)">99</text>
</g>
<text transform="translate(191.8 330.8) scale(1 1.06)" font-family='"Liberation Sans", sans-serif' font-size="9.3" fill="#222" text-anchor="middle">Days</text>
<g transform="translate(27.2 252.2) rotate(-90)" font-family='"Liberation Sans", sans-serif' fill="#222"><text transform="translate(0 0) scale(1 1.06)" font-size="10.8">R</text><text transform="translate(7.2 2.2) scale(1 1.06)" font-size="6">t</text></g>
<path d="M384.50 140.27L385.00 140.26L385.50 140.26L386.00 140.26L386.50 140.26L387.00 140.25L387.50 140.25L388.00 140.25L388.50 140.24L389.00 140.24L389.50 140.23L390.00 140.23L390.50 140.23L391.00 140.22L391.50 140.21L392.00 140.21L392.50 140.20L393.00 140.20L393.50 140.19L394.00 140.18L394.50 140.17L395.00 140.17L395.50 140.16L396.00 140.15L396.50 140.14L397.00 140.12L397.50 140.11L398.00 140.10L398.50 140.09L399.00 140.07L399.50 140.06L400.00 140.04L400.50 140.02L401.00 140.00L401.50 139.98L402.00 139.96L402.50 139.94L403.00 139.92L403.50 139.89L404.00 139.86L404.50 139.83L405.00 139.80L405.50 139.77L406.00 139.73L406.50 139.70L407.00 139.66L407.50 139.61L408.00 139.57L408.50 139.52L409.00 139.47L409.50 139.42L410.00 139.36L410.50 139.30L411.00 139.23L411.50 139.16L412.00 139.09L412.50 139.01L413.00 138.93L413.50 138.84L414.00 138.75L414.50 138.65L415.00 138.54L415.50 138.43L416.00 138.31L416.50 138.19L417.00 138.06L417.50 137.92L418.00 137.77L418.50 137.61L419.00 137.45L419.50 137.27L420.00 137.09L420.50 136.89L421.00 136.69L421.50 136.47L422.00 136.24L422.50 136.00L423.00 135.75L423.50 135.48L424.00 135.20L424.50 134.90L425.00 134.59L425.50 134.26L426.00 133.91L426.50 133.55L427.00 133.17L427.50 132.77L428.00 132.35L428.50 131.91L429.00 131.45L429.50 130.97L430.00 130.47L430.50 129.94L431.00 129.39L431.50 128.82L432.00 128.22L432.50 127.59L433.00 126.94L433.50 126.26L434.00 125.56L434.50 124.82L435.00 124.06L435.50 123.26L436.00 122.44L436.50 121.59L437.00 120.70L437.50 119.79L438.00 118.84L438.50 117.86L439.00 116.85L439.50 115.80L440.00 114.72L440.50 113.61L441.00 112.47L441.50 111.30L442.00 110.09L442.50 108.85L443.00 107.58L443.50 106.28L444.00 104.95L444.50 103.59L445.00 102.20L445.50 100.78L446.00 99.34L446.50 97.87L447.00 96.38L447.50 94.86L448.00 93.32L448.50 91.77L449.00 90.19L449.50 88.60L450.00 87.00L450.50 85.38L451.00 83.76L451.50 82.13L452.00 80.49L452.50 78.85L453.00 77.22L453.50 75.58L454.00 73.96L454.50 72.34L455.00 70.74L455.50 69.15L456.00 67.58L456.50 66.03L457.00 64.51L457.50 63.01L458.00 61.55L458.50 60.12L459.00 58.73L459.50 57.39L460.00 56.08L460.50 54.83L461.00 53.62L461.50 52.47L462.00 51.37L462.50 50.34L463.00 49.36L463.50 48.45L464.00 47.61L464.50 46.83L465.00 46.13L465.50 45.49L466.00 44.93L466.50 44.45L467.00 44.05L467.50 43.72L468.00 43.47L468.50 43.30L469.00 43.21L469.50 43.21L470.00 43.28L470.50 43.43L471.00 43.66L471.50 43.98L472.00 44.37L472.50 44.83L473.00 45.38L473.50 45.99L474.00 46.68L474.50 47.45L475.00 48.28L475.50 49.17L476.00 50.14L476.50 51.16L477.00 52.25L477.50 53.39L478.00 54.58L478.50 55.83L479.00 57.12L479.50 58.46L480.00 59.84L480.50 61.26L481.00 62.72L481.50 64.21L482.00 65.72L482.50 67.27L483.00 68.83L483.50 70.42L484.00 72.02L484.50 73.63L485.00 75.26L485.50 76.89L486.00 78.52L486.50 80.16L487.00 81.80L487.50 83.43L488.00 85.06L488.50 86.67L489.00 88.28L489.50 89.87L490.00 91.45L490.50 93.01L491.00 94.55L491.50 96.07L492.00 97.57L492.50 99.05L493.00 100.50L493.50 101.92L494.00 103.31L494.50 104.68L495.00 106.02L495.50 107.32L496.00 108.60L496.50 109.84L497.00 111.06L497.50 112.24L498.00 113.39L498.50 114.50L499.00 115.59L499.50 116.64L500.00 117.66L500.50 118.64L501.00 119.60L501.50 120.52L502.00 121.41L502.50 122.27L503.00 123.10L503.50 123.90L504.00 124.67L504.50 125.41L505.00 126.12L505.50 126.81L506.00 127.47L506.50 128.10L507.00 128.70L507.50 129.28L508.00 129.83L508.50 130.37L509.00 130.87L509.50 131.36L510.00 131.82L510.50 132.27L511.00 132.69L511.50 133.09L512.00 133.48L512.50 133.84L513.00 134.19L513.50 134.52L514.00 134.84L514.50 135.14L515.00 135.42L515.50 135.69L516.00 135.95L516.50 136.19L517.00 136.43L517.50 136.64L518.00 136.85L518.50 137.05L519.00 137.24L519.50 137.41L520.00 137.58L520.50 137.74L521.00 137.89L521.50 138.03L522.00 138.16L522.50 138.29L523.00 138.41L523.50 138.52L524.00 138.63L524.50 138.73L525.00 138.82" stroke="#e9a08f" stroke-width="1.1" fill="none"/>
<path d="M384.50 140.08L385.00 140.06L385.50 140.05L386.00 140.03L386.50 140.01L387.00 139.99L387.50 139.97L388.00 139.95L388.50 139.93L389.00 139.90L389.50 139.88L390.00 139.85L390.50 139.82L391.00 139.79L391.50 139.76L392.00 139.72L392.50 139.69L393.00 139.65L393.50 139.60L394.00 139.56L394.50 139.51L395.00 139.46L395.50 139.41L396.00 139.35L396.50 139.29L397.00 139.23L397.50 139.16L398.00 139.09L398.50 139.01L399.00 138.93L399.50 138.85L400.00 138.76L400.50 138.66L401.00 138.56L401.50 138.45L402.00 138.34L402.50 138.22L403.00 138.09L403.50 137.96L404.00 137.81L404.50 137.67L405.00 137.51L405.50 137.34L406.00 137.16L406.50 136.98L407.00 136.78L407.50 136.58L408.00 136.36L408.50 136.13L409.00 135.89L409.50 135.63L410.00 135.37L410.50 135.09L411.00 134.79L411.50 134.48L412.00 134.15L412.50 133.81L413.00 133.45L413.50 133.08L414.00 132.68L414.50 132.27L415.00 131.84L415.50 131.39L416.00 130.91L416.50 130.42L417.00 129.90L417.50 129.36L418.00 128.80L418.50 128.21L419.00 127.60L419.50 126.96L420.00 126.30L420.50 125.61L421.00 124.89L421.50 124.15L422.00 123.37L422.50 122.57L423.00 121.74L423.50 120.88L424.00 119.98L424.50 119.06L425.00 118.10L425.50 117.12L426.00 116.10L426.50 115.05L427.00 113.97L427.50 112.86L428.00 111.71L428.50 110.54L429.00 109.33L429.50 108.09L430.00 106.82L430.50 105.52L431.00 104.19L431.50 102.83L432.00 101.44L432.50 100.02L433.00 98.58L433.50 97.11L434.00 95.62L434.50 94.10L435.00 92.57L435.50 91.01L436.00 89.43L436.50 87.84L437.00 86.23L437.50 84.61L438.00 82.98L438.50 81.34L439.00 79.70L439.50 78.05L440.00 76.40L440.50 74.75L441.00 73.11L441.50 71.47L442.00 69.84L442.50 68.22L443.00 66.62L443.50 65.04L444.00 63.48L444.50 61.94L445.00 60.43L445.50 58.95L446.00 57.51L446.50 56.10L447.00 54.73L447.50 53.41L448.00 52.13L448.50 50.90L449.00 49.72L449.50 48.59L450.00 47.52L450.50 46.51L451.00 45.57L451.50 44.68L452.00 43.87L452.50 43.12L453.00 42.44L453.50 41.83L454.00 41.30L454.50 40.84L455.00 40.46L455.50 40.15L456.00 39.93L456.50 39.78L457.00 39.71L457.50 39.71L458.00 39.80L458.50 39.97L459.00 40.21L459.50 40.53L460.00 40.93L460.50 41.40L461.00 41.95L461.50 42.57L462.00 43.26L462.50 44.03L463.00 44.86L463.50 45.75L464.00 46.71L464.50 47.73L465.00 48.81L465.50 49.95L466.00 51.14L466.50 52.38L467.00 53.67L467.50 55.00L468.00 56.38L468.50 57.79L469.00 59.25L469.50 60.73L470.00 62.25L470.50 63.79L471.00 65.35L471.50 66.94L472.00 68.54L472.50 70.16L473.00 71.79L473.50 73.43L474.00 75.08L474.50 76.73L475.00 78.38L475.50 80.03L476.00 81.67L476.50 83.31L477.00 84.94L477.50 86.56L478.00 88.16L478.50 89.75L479.00 91.32L479.50 92.88L480.00 94.41L480.50 95.92L481.00 97.41L481.50 98.87L482.00 100.31L482.50 101.72L483.00 103.10L483.50 104.45L484.00 105.78L484.50 107.07L485.00 108.34L485.50 109.57L486.00 110.77L486.50 111.94L487.00 113.08L487.50 114.19L488.00 115.26L488.50 116.31L489.00 117.32L489.50 118.30L490.00 119.25L490.50 120.16L491.00 121.05L491.50 121.91L492.00 122.73L492.50 123.53L493.00 124.30L493.50 125.04L494.00 125.75L494.50 126.43L495.00 127.09L495.50 127.72L496.00 128.33L496.50 128.91L497.00 129.47L497.50 130.01L498.00 130.52L498.50 131.01L499.00 131.48L499.50 131.93L500.00 132.35L500.50 132.76L501.00 133.15L501.50 133.53L502.00 133.88L502.50 134.22L503.00 134.54L503.50 134.85L504.00 135.14L504.50 135.42L505.00 135.69L505.50 135.94L506.00 136.18L506.50 136.40L507.00 136.62L507.50 136.82L508.00 137.02L508.50 137.20L509.00 137.37L509.50 137.54L510.00 137.70L510.50 137.84L511.00 137.98L511.50 138.12L512.00 138.24L512.50 138.36L513.00 138.47L513.50 138.58L514.00 138.68L514.50 138.77L515.00 138.86L515.50 138.95L516.00 139.03L516.50 139.10L517.00 139.17L517.50 139.24L518.00 139.30L518.50 139.36L519.00 139.42L519.50 139.47L520.00 139.52L520.50 139.57L521.00 139.61L521.50 139.65L522.00 139.69L522.50 139.73L523.00 139.76L523.50 139.80L524.00 139.83L524.50 139.86L525.00 139.88" stroke="#33a8d0" stroke-width="1.1" fill="none"/>
<g stroke="#888" stroke-width="0.8" fill="none">
<path d="M384.4 15.4V140.4"/>
<path d="M382.3 140.30H384.4"/>
<path d="M382.3 101.00H384.4"/>
<path d="M382.3 61.70H384.4"/>
<path d="M382.3 22.40H384.4"/>
<path d="M384.4 140.4H525"/>
<path d="M409.25 140.4V142.6"/>
<path d="M437.50 140.4V142.6"/>
<path d="M465.75 140.4V142.6"/>
<path d="M494.00 140.4V142.6"/>
<path d="M522.25 140.4V142.6"/>
</g>
<g font-family='"Liberation Sans", sans-serif' font-size="5.8" fill="#444" text-anchor="middle">
<text transform="translate(378.9 140.30) rotate(-90)">0.00</text>
<text transform="translate(378.9 101.00) rotate(-90)">0.05</text>
<text transform="translate(378.9 61.70) rotate(-90)">0.10</text>
<text transform="translate(378.9 22.40) rotate(-90)">0.15</text>
<text transform="translate(384.80 148.6) scale(1 1.06)">−10</text>
<text transform="translate(412.80 148.6) scale(1 1.06)">−5</text>
<text transform="translate(440.80 148.6) scale(1 1.06)">0</text>
<text transform="translate(468.80 148.6) scale(1 1.06)">5</text>
<text transform="translate(496.80 148.6) scale(1 1.06)">10</text>
<text transform="translate(524.80 148.6) scale(1 1.06)">15</text>
</g>
<text transform="translate(455.4 157.9) scale(1 1.06)" font-family='"Liberation Sans", sans-serif' font-size="8" fill="#222" text-anchor="middle">Serial interval (Days)</text>
<text transform="translate(369.3 60.8) rotate(-90)" font-family='"Liberation Sans", sans-serif' font-size="7.8" fill="#222" text-anchor="middle">Probability density</text>
<path d="M396.3 15.8H408.6" stroke="#eaa08e" stroke-width="1.8"/>
<path d="M396.3 26.8H408.6" stroke="#33a8d0" stroke-width="1.8"/>
<g font-family='"Liberation Sans", sans-serif' font-size="6.95" fill="#333">
<text transform="translate(414.4 17.6) scale(1 1.06)">Early epidemic period</text>
<text transform="translate(414.4 28.6) scale(1 1.06)">Late epidemic period</text>
<text transform="translate(414.4 36.7) scale(1 1.06)">(after PHSM implemented)</text>
</g>
<path d="M456.60 196.40C456.73 195.93 456.87 195.32 457.40 193.60C457.93 191.88 458.93 187.97 459.80 186.10C460.67 184.23 461.87 182.82 462.60 182.40C463.33 181.98 463.63 182.83 464.20 183.60C464.77 184.37 465.33 185.35 466.00 187.00C466.67 188.65 467.63 191.93 468.20 193.50C468.77 195.07 469.20 195.92 469.40 196.40Z" fill="#2f86c4"/>
<path d="M458.90 196.40C459.07 195.93 459.25 195.32 459.90 193.60C460.55 191.88 461.92 187.72 462.80 186.10C463.68 184.48 464.43 183.90 465.20 183.90C465.97 183.90 466.57 184.48 467.40 186.10C468.23 187.72 469.52 191.88 470.20 193.60C470.88 195.32 471.28 195.93 471.50 196.40Z" fill="#ef7462" fill-opacity="0.9"/>
<path d="M529.20 219.60C529.53 220.00 530.30 220.95 531.20 222.00C532.10 223.05 533.28 224.52 534.60 225.90C535.92 227.28 538.02 229.07 539.10 230.30C540.18 231.53 540.98 232.28 541.10 233.30C541.22 234.32 540.63 235.42 539.80 236.40C538.97 237.38 537.48 238.33 536.10 239.20C534.72 240.07 532.65 241.00 531.50 241.60C530.35 242.20 529.58 242.60 529.20 242.80Z" fill="#2f86c4"/>
<path d="M529.20 243.90C529.53 244.00 530.42 244.27 531.20 244.50C531.98 244.73 532.22 244.68 533.90 245.30C535.58 245.92 538.85 247.03 541.30 248.20C543.75 249.37 548.60 251.20 548.60 252.30C548.60 253.40 543.75 254.02 541.30 254.80C538.85 255.58 535.58 256.42 533.90 257.00C532.22 257.58 531.98 257.92 531.20 258.30C530.42 258.68 529.53 259.13 529.20 259.30Z" fill="#ef7462"/>
<g stroke="#7a7a7a" stroke-width="1" fill="none">
<path d="M395.9 196.4V314.9"/>
<path d="M529.1 196.4V314.9"/>
<path d="M395.4 196.4H403.6M407.4 196.4H529.6"/>
<path d="M395.4 314.9H404.8M408.6 314.9H529.6"/>
</g>
<g stroke="#666" stroke-width="1.2" fill="none">
<path d="M403.2 199.6L404.3 193.9M406.3 199.6L407.5 193.9"/>
<path d="M404.4 318.09999999999997L405.5 312.4M407.5 318.09999999999997L408.7 312.4"/>
</g>
<g stroke="#7a7a7a" stroke-width="1" fill="none">
<path d="M394.4 295.20H395.9"/>
<path d="M394.4 275.40H395.9"/>
<path d="M394.4 255.60H395.9"/>
<path d="M394.4 235.80H395.9"/>
<path d="M394.4 216.00H395.9"/>
<path d="M394.4 196.20H395.9"/>
<path d="M428.09 314.9V316.7"/>
<path d="M460.40 314.9V316.7"/>
<path d="M492.71 314.9V316.7"/>
<path d="M525.02 314.9V316.7"/>
<path d="M398.6 314.9V316.7"/>
</g>
<g font-family='"Liberation Sans", sans-serif' font-size="6.5" fill="#333" text-anchor="end">
<text transform="translate(391.4 297.50) scale(1 1.06)">0.2</text>
<text transform="translate(391.4 277.70) scale(1 1.06)">0.4</text>
<text transform="translate(391.4 257.90) scale(1 1.06)">0.6</text>
<text transform="translate(391.4 238.10) scale(1 1.06)">0.8</text>
<text transform="translate(391.4 218.30) scale(1 1.06)">1.0</text>
<text transform="translate(391.4 198.50) scale(1 1.06)">1.2</text>
</g>
<g font-family='"Liberation Sans", sans-serif' font-size="6.5" fill="#333" text-anchor="middle">
<text transform="translate(398.4 322.6) scale(1 1.06)">0.0</text>
<text transform="translate(428.09 322.6) scale(1 1.06)">0.6</text>
<text transform="translate(460.40 322.6) scale(1 1.06)">0.9</text>
<text transform="translate(492.71 322.6) scale(1 1.06)">1.2</text>
<text transform="translate(525.02 322.6) scale(1 1.06)">1.5</text>
</g>
<text transform="translate(465.5 332.8) scale(1 1.06)" font-family='"Liberation Sans", sans-serif' font-size="7.8" fill="#222" text-anchor="middle">Reproduction number</text>
<text transform="translate(376.6 250.0) rotate(-90)" font-family='"Liberation Sans", sans-serif' font-size="7.7" fill="#222" text-anchor="middle">Dispersion parameter (<tspan font-style="italic">k</tspan>)</text>
<path d="M465.50 242.60C467.00 242.47 469.03 242.93 470.40 244.30C471.77 245.67 473.43 248.63 473.70 250.80C473.97 252.97 473.23 255.80 472.00 257.30C470.77 258.80 468.07 259.67 466.30 259.80C464.53 259.93 462.48 259.47 461.40 258.10C460.32 256.73 459.80 253.77 459.80 251.60C459.80 249.43 460.45 246.60 461.40 245.10C462.35 243.60 464.00 242.73 465.50 242.60Z" stroke="#e4553a" stroke-width="1.5" fill="none"/>
<path d="M463.90 216.20C465.38 216.07 466.82 217.32 467.90 219.00C468.98 220.68 470.12 223.45 470.40 226.30C470.68 229.15 470.15 233.52 469.60 236.10C469.05 238.68 467.97 240.58 467.10 241.80C466.23 243.02 465.35 243.40 464.40 243.40C463.45 243.40 462.43 243.02 461.40 241.80C460.37 240.58 458.88 238.13 458.20 236.10C457.52 234.07 457.17 232.32 457.30 229.60C457.43 226.88 457.90 222.03 459.00 219.80C460.10 217.57 462.42 216.33 463.90 216.20Z" stroke="#1b6fad" stroke-width="1.5" fill="none"/>
<rect x="435" y="281.3" width="4.5" height="4.3" fill="#ee7766"/>
<rect x="435" y="291.8" width="4.5" height="4.3" fill="#3388c6"/>
<g font-family='"Liberation Sans", sans-serif' font-size="6.5" fill="#333">
<text transform="translate(442.3 285.2) scale(1 1.06)">Early epidemic period</text>
<text transform="translate(442.3 295.6) scale(1 1.06)">Late epidemic period</text>
<text transform="translate(442.3 303.7) scale(1 1.06)">(after PHSM implemented)</text>
</g>
<g font-family='"Liberation Sans", sans-serif' font-size="14.8" font-weight="bold" fill="#111">
<text y="14.7" x="2.3">A</text>
<text y="190.9" x="1.9">B</text>
<text y="14.0" x="343.4">C</text>
<text y="187.6" x="347.0">D</text>
</g>
</svg>
</body></html>
